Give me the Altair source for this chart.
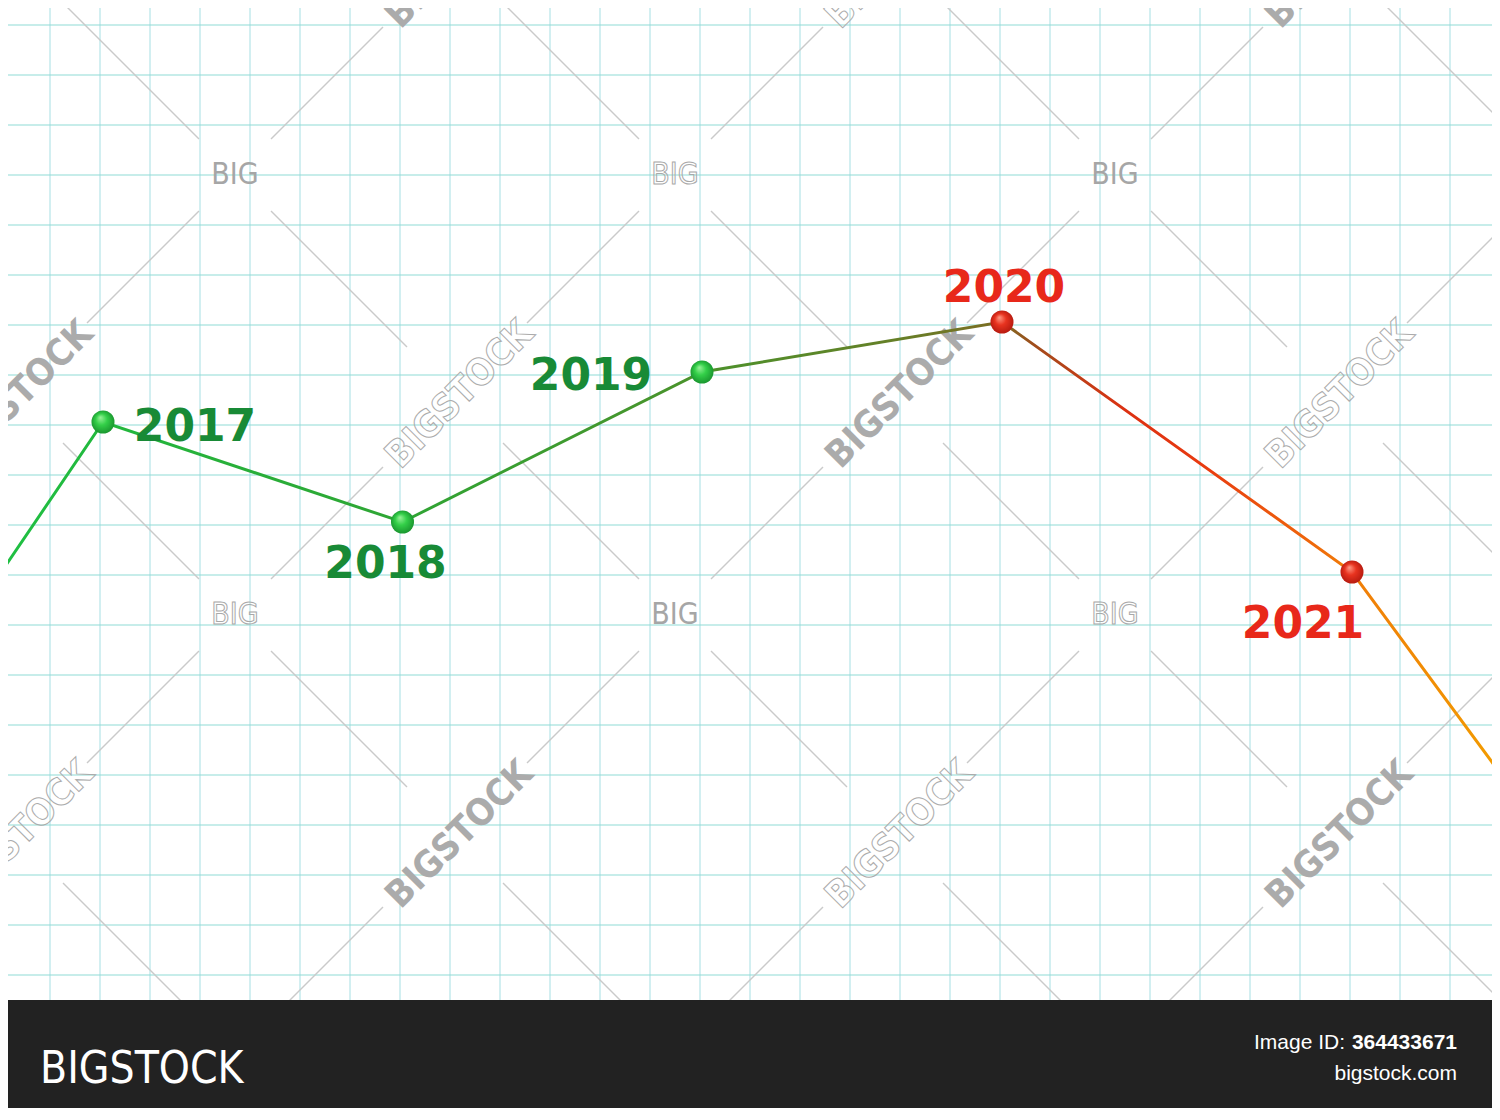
import altair as alt
import pandas as pd

# ---------------- data ----------------
years = ["", "2017", "2018", "2019", "2020", "2021", ""]
x_pos = [0.0, 2.06, 8.05, 14.04, 20.04, 27.04, 30.0]        # grid cells from left edge
values = [8.52, 11.56, 9.56, 12.56, 13.56, 8.56, 4.54]      # grid cells above the bottom of the sheet
trend = ["up", "up", "up", "up", "down", "down", "down"]

grid_x = list(range(0, 31))
grid_y = [k + 0.5 for k in range(0, 20)]

footer_logo = "BIGSTOCK"
footer_id_label = "Image ID:"
footer_id = "364433671"
footer_site = "bigstock.com"
watermark_word = "BIGSTOCK"
watermark_short = "BIG"

# ---------------- layout / styles ----------------
W, H = 1484, 1100
xs = alt.Scale(domain=[0.16, 29.84], nice=False, zero=False)
ys = alt.Scale(domain=[-2.16, 19.84], nice=False, zero=False)


def ux(px):
    return px / 50.0


def uy(py):
    return (1000.0 - py) / 50.0


COND = "Liberation Sans Narrow, DejaVu Sans Condensed, Roboto Condensed, Roboto, sans-serif"

line_grad = {
    "gradient": "linear", "x1": 0, "y1": 0, "x2": 1, "y2": 0,
    "stops": [
        {"offset": 0.0, "color": "#1fc043"},
        {"offset": 0.069, "color": "#22b83d"},
        {"offset": 0.268, "color": "#2fa534"},
        {"offset": 0.468, "color": "#4b922b"},
        {"offset": 0.60, "color": "#667f27"},
        {"offset": 0.668, "color": "#7c6c22"},
        {"offset": 0.69, "color": "#a24c1c"},
        {"offset": 0.75, "color": "#dc3112"},
        {"offset": 0.80, "color": "#e83a10"},
        {"offset": 0.87, "color": "#ee640c"},
        {"offset": 0.90, "color": "#f07d08"},
        {"offset": 1.0, "color": "#f29c00"},
    ],
}
green_ball = {
    "gradient": "radial", "x1": 0.38, "y1": 0.3, "r1": 0.0, "x2": 0.5, "y2": 0.5, "r2": 0.55,
    "stops": [
        {"offset": 0.0, "color": "#9af29a"},
        {"offset": 0.45, "color": "#33cf48"},
        {"offset": 1.0, "color": "#178f2c"},
    ],
}
red_ball = {
    "gradient": "radial", "x1": 0.38, "y1": 0.3, "r1": 0.0, "x2": 0.5, "y2": 0.5, "r2": 0.55,
    "stops": [
        {"offset": 0.0, "color": "#ff9a86"},
        {"offset": 0.45, "color": "#e8331f"},
        {"offset": 1.0, "color": "#b0180e"},
    ],
}
GREEN_TXT = "#188a36"
RED_TXT = "#e8281a"
label_offsets = {"2017": (92, 19), "2018": (-17, 56), "2019": (-111, 18),
                 "2020": (2, -20), "2021": (-49, 66)}

df = pd.DataFrame({"year": years, "x": x_pos, "value": values, "trend": trend})

hidden_axis = alt.Axis(labels=False, ticks=False, domain=False, grid=False,
                       minExtent=0, maxExtent=0)
Xa = alt.X("x:Q", scale=xs, title="", axis=hidden_axis)
Ya = alt.Y("value:Q", scale=ys, title="", axis=hidden_axis)
Xn = alt.X("x:Q", scale=xs, axis=None)
Yn = alt.Y("y:Q", scale=ys, axis=None)
Yv = alt.Y("value:Q", scale=ys, axis=None)

# ---------------- graph-paper grid ----------------
vgrid = alt.Chart(pd.DataFrame({"x": grid_x})).mark_rule(
    color="#a6dfe3", strokeWidth=1).encode(x=Xa, y=alt.value(0), y2=alt.value(H))
hgrid = alt.Chart(pd.DataFrame({"y": grid_y})).mark_rule(
    color="#8fdbd5", strokeWidth=1).encode(y=alt.Y("y:Q", scale=ys, title="", axis=hidden_axis),
                                           x=alt.value(0), x2=alt.value(W))

# ---------------- watermark (decoration) ----------------
seg_rows = []
for cx in [-205, 235, 675, 1115, 1555]:
    for cy in [175, 615, 1055]:
        for (a, b, sx, sy) in [(36, 172, -1, -1), (36, 172, 1, 1), (36, 148, 1, -1), (36, 148, -1, 1)]:
            seg_rows.append({"x": ux(cx + sx * a), "y": uy(cy + sy * a),
                             "x2": ux(cx + sx * b), "y2": uy(cy + sy * b)})
seg_df = pd.DataFrame(seg_rows)

big_rows = []
for i, cx in enumerate([235, 675, 1115]):
    for j, cy in enumerate([175, 615]):
        big_rows.append({"x": ux(cx), "y": uy(cy), "t": watermark_short, "filled": (i + j) % 2 == 0})
big_df = pd.DataFrame(big_rows)

word_rows = []
for r, cy in enumerate([-45, 395, 835]):
    for c, cx in enumerate([20, 460, 900, 1340]):
        word_rows.append({"x": ux(cx), "y": uy(cy), "t": watermark_word, "filled": (r + c) % 2 == 1})
word_df = pd.DataFrame(word_rows)

wm_lines = alt.Chart(seg_df).mark_rule(color="#cacaca", strokeWidth=1.4, clip=True).encode(
    x=Xn, y=Yn, x2="x2:Q", y2="y2:Q")

big_fill = alt.Chart(big_df).transform_filter("datum.filled").mark_text(
    font=COND, fontSize=30, color="#a6a6a6", align="center", baseline="middle").encode(
    x=Xn, y=Yn, text="t:N")
big_line = alt.Chart(big_df).transform_filter("!datum.filled").mark_text(
    font=COND, fontSize=30, fillOpacity=0, stroke="#a9a9a9", strokeWidth=1,
    align="center", baseline="middle").encode(x=Xn, y=Yn, text="t:N")

word_fill = alt.Chart(word_df).transform_filter("datum.filled").mark_text(
    font=COND, fontSize=37, fontWeight="bold", color="#ababab", angle=315, align="center",
    baseline="middle", clip=True).encode(x=Xn, y=Yn, text="t:N")
word_line = alt.Chart(word_df).transform_filter("!datum.filled").mark_text(
    font=COND, fontSize=37, fontWeight="bold", fillOpacity=0, stroke="#ababab", strokeWidth=1,
    angle=315, align="center", baseline="middle", clip=True).encode(x=Xn, y=Yn, text="t:N")

# ---------------- series ----------------
line = alt.Chart(df).mark_line(stroke=line_grad, strokeWidth=3, clip=True).encode(x=Xn, y=Yv)

green_pts = alt.Chart(df).transform_filter("datum.year != '' && datum.trend == 'up'").mark_circle(
    size=530, fill=green_ball, opacity=1).encode(x=Xn, y=Yv)
red_pts = alt.Chart(df).transform_filter("datum.year != '' && datum.trend == 'down'").mark_circle(
    size=530, fill=red_ball, opacity=1).encode(x=Xn, y=Yv)

labels = []
for yr in years:
    if yr == "":
        continue
    dx, dy = label_offsets[yr]
    col = GREEN_TXT if df.loc[df.year == yr, "trend"].iloc[0] == "up" else RED_TXT
    txt = alt.Chart(df).transform_filter(alt.datum.year == yr).mark_text(
        font="DejaVu Sans", fontWeight="bold", fontSize=44, align="center",
        baseline="alphabetic", dx=dx, dy=dy, color=col).encode(x=Xn, y=Yv, text="year:N")
    labels.append(txt)

# ---------------- footer ----------------
one = pd.DataFrame({"a": [0]})
footer = alt.Chart(one).mark_rect(color="#222222").encode(
    x=alt.value(0), x2=alt.value(W), y=alt.datum(uy(1000), scale=ys), y2=alt.value(H))

foot_df = pd.DataFrame({
    "x": [ux(40), ux(1345), ux(1457), ux(1457)],
    "y": [uy(1083), uy(1049), uy(1049), uy(1080)],
    "t": [footer_logo, footer_id_label, footer_id, footer_site],
    "k": ["logo", "idlab", "id", "site"],
})
logo = alt.Chart(foot_df).transform_filter("datum.k == 'logo'").mark_text(
    font=COND, fontSize=44, color="#ffffff", align="left", baseline="alphabetic").encode(
    x=Xn, y=Yn, text="t:N")
idlab = alt.Chart(foot_df).transform_filter("datum.k == 'idlab' || datum.k == 'site'").mark_text(
    font="Liberation Sans, Arial, sans-serif", fontSize=21, color="#ffffff", align="right",
    baseline="alphabetic").encode(x=Xn, y=Yn, text="t:N")
idnum = alt.Chart(foot_df).transform_filter("datum.k == 'id'").mark_text(
    font="Liberation Sans, Arial, sans-serif", fontSize=21, fontWeight="bold", color="#ffffff",
    align="right", baseline="alphabetic").encode(x=Xn, y=Yn, text="t:N")

chart = alt.layer(
    vgrid, hgrid, wm_lines, big_fill, big_line, word_fill, word_line,
    line, *labels, green_pts, red_pts, footer, logo, idlab, idnum
).properties(
    width=W, height=H, padding=0, background="#ffffff",
    autosize=alt.AutoSizeParams(type="none"),
).configure_view(strokeWidth=0)

chart.save("out.html", embed_options={"renderer": "svg", "actions": False})
